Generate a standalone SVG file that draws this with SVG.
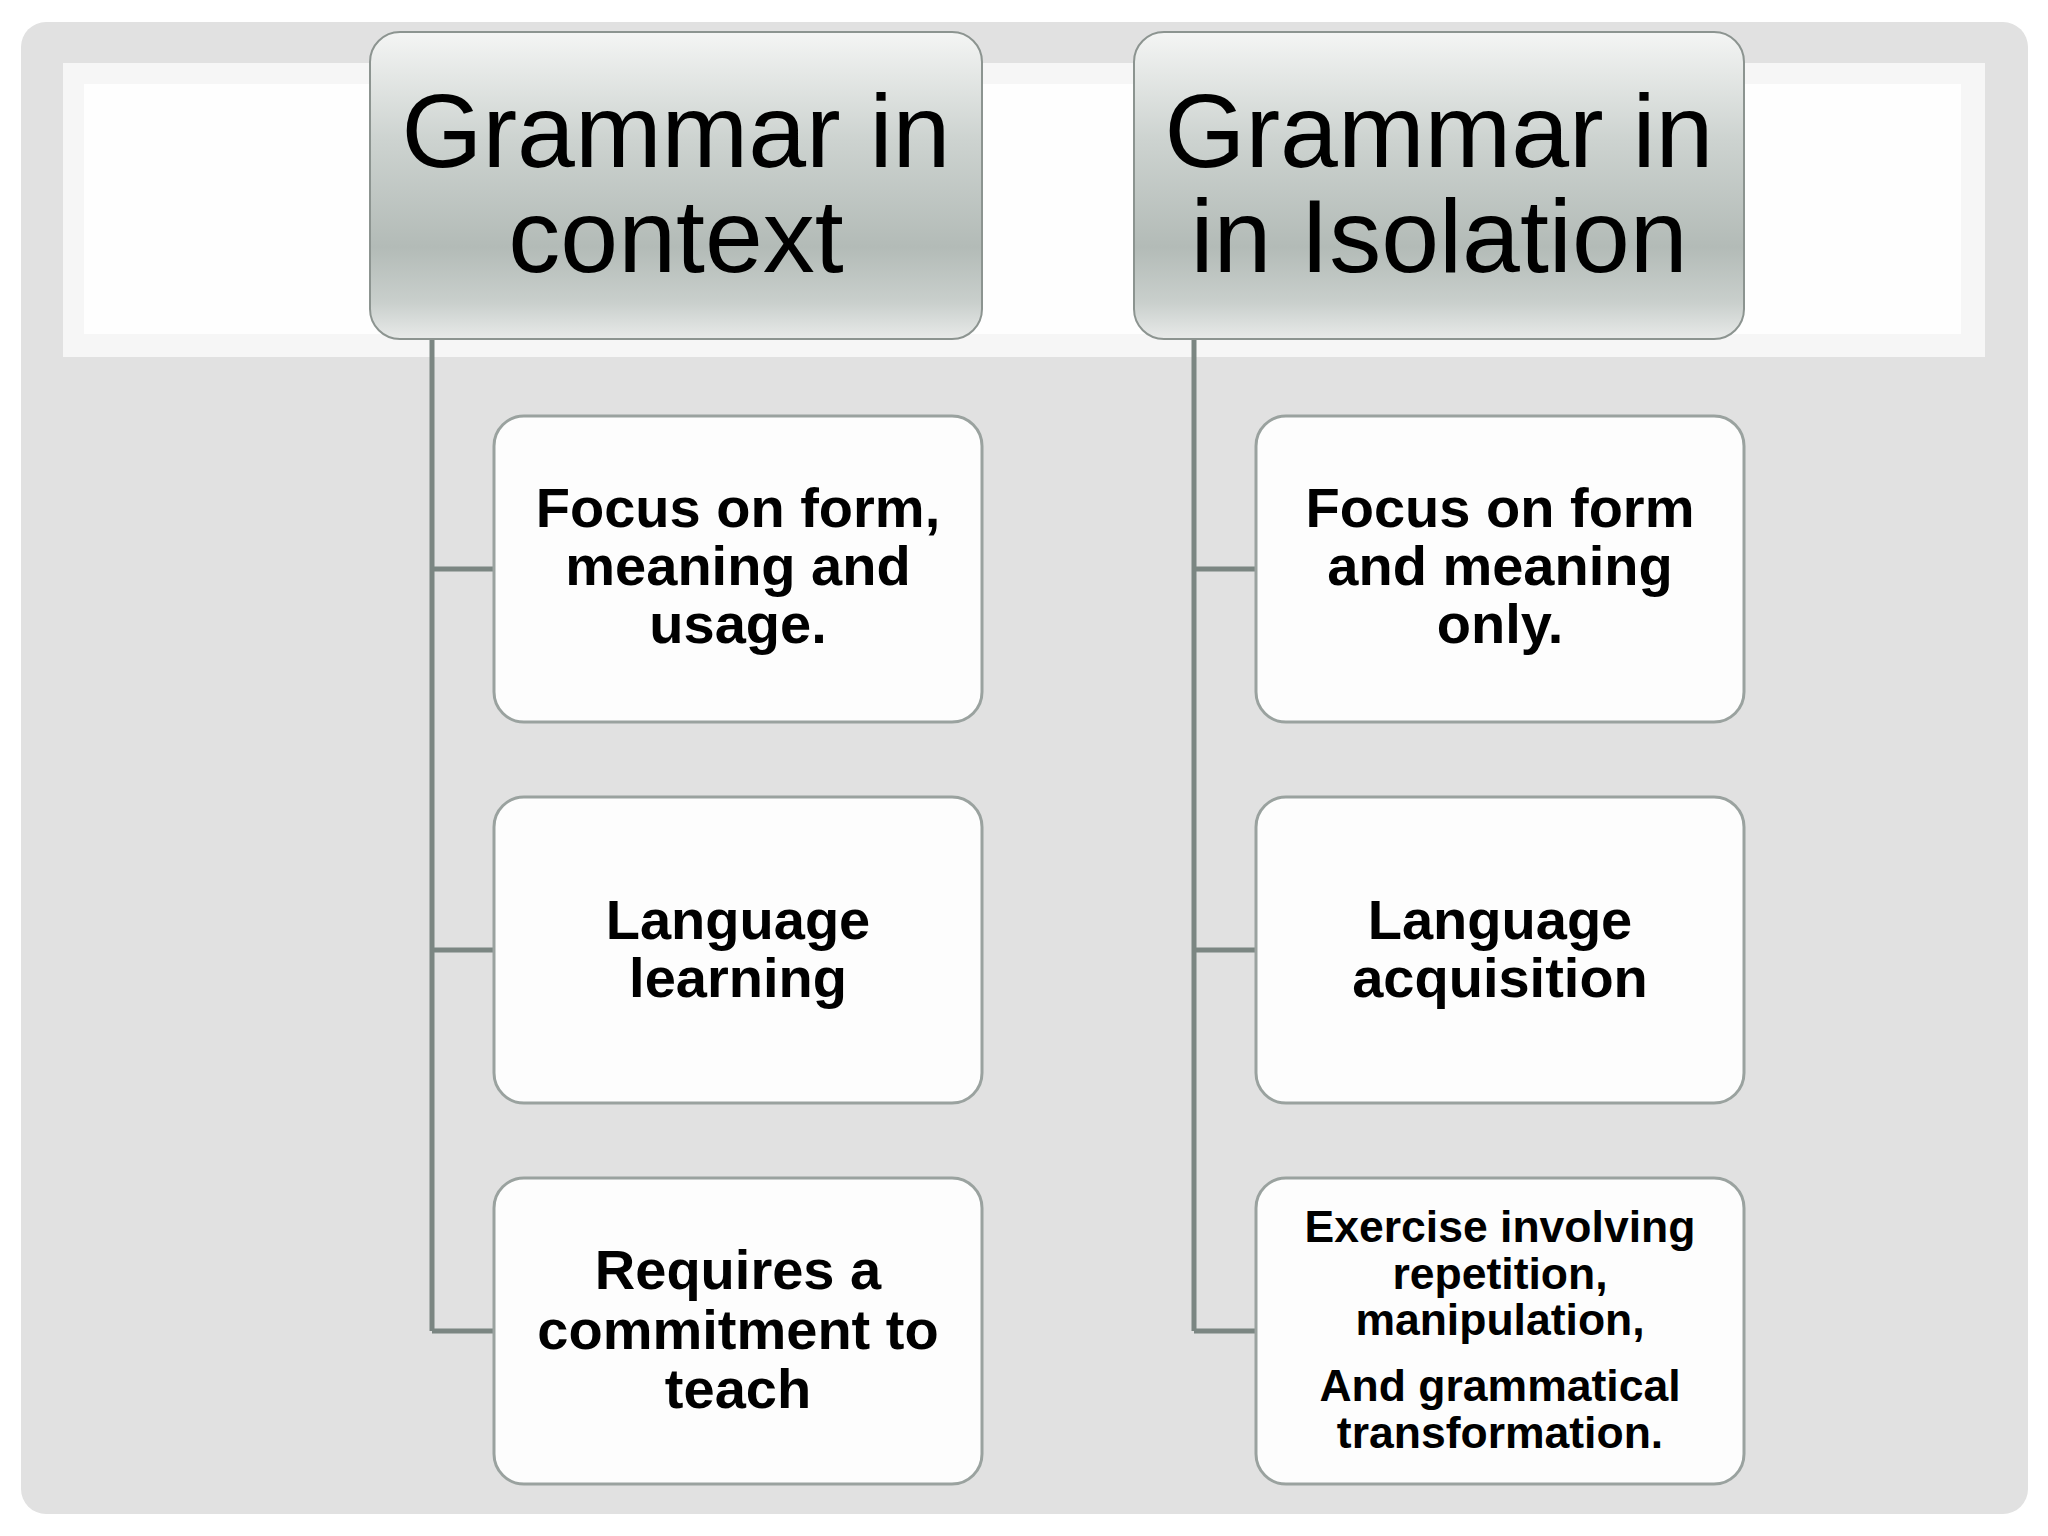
<svg xmlns="http://www.w3.org/2000/svg" width="2048" height="1536" viewBox="0 0 2048 1536">
  <defs>
    <linearGradient id="hdrGrad" x1="0" y1="0" x2="0" y2="1">
      <stop offset="0" stop-color="#f4f5f4"/>
      <stop offset="0.35" stop-color="#cdd3d0"/>
      <stop offset="0.7" stop-color="#b3bbb7"/>
      <stop offset="0.88" stop-color="#c9cfcc"/>
      <stop offset="1" stop-color="#e8eae9"/>
    </linearGradient>
    <style>
      .hdr { fill: url(#hdrGrad); stroke: #8c9490; stroke-width: 2; }
      .hdrText { font-family: "Liberation Sans", Arial, sans-serif; font-size: 104px; fill: #000; text-anchor: middle; }
      .child { fill: #fdfdfd; stroke: #9aa29f; stroke-width: 3; }
      .childText { font-family: "Liberation Sans", Arial, sans-serif; font-weight: bold; font-size: 56px; fill: #000; text-anchor: middle; }
      .childTextSm { font-family: "Liberation Sans", Arial, sans-serif; font-weight: bold; font-size: 44.5px; fill: #000; text-anchor: middle; }
      .conn { fill: none; stroke: #7b8682; stroke-width: 5; }
    </style>
  </defs>

  <!-- background -->
  <rect x="0" y="0" width="2048" height="1536" fill="#ffffff"/>
  <rect x="21" y="22" width="2007" height="1492" rx="25" fill="#e1e1e1"/>
  <rect x="63" y="63" width="1922" height="294" fill="#f6f6f6"/>
  <rect x="84" y="84" width="1877" height="250" fill="#fefefe"/>

  <!-- connectors -->
  <g id="connectors">
    <path class="conn" d="M432 339 V1331 M432 569 H494 M432 950 H494 M432 1331 H494"/>
    <path class="conn" d="M1194 339 V1331 M1194 569 H1256 M1194 950 H1256 M1194 1331 H1256"/>
  </g>

  <!-- headers -->
  <g id="header-context">
    <rect class="hdr" x="370" y="32" width="612" height="307" rx="30"/>
    <text class="hdrText" x="676" y="167">Grammar in</text>
    <text class="hdrText" x="676" y="272">context</text>
  </g>
  <g id="header-isolation">
    <rect class="hdr" x="1134" y="32" width="610" height="307" rx="30"/>
    <text class="hdrText" x="1439" y="167">Grammar in</text>
    <text class="hdrText" x="1439" y="272">in Isolation</text>
  </g>

  <!-- left column -->
  <g id="ctx-focus">
    <rect class="child" x="494" y="416" width="488" height="306" rx="30"/>
    <text class="childText" x="738" y="527">Focus on form,</text>
    <text class="childText" x="738" y="585">meaning and</text>
    <text class="childText" x="738" y="643">usage.</text>
  </g>
  <g id="ctx-learning">
    <rect class="child" x="494" y="797" width="488" height="306" rx="30"/>
    <text class="childText" x="738" y="939">Language</text>
    <text class="childText" x="738" y="997">learning</text>
  </g>
  <g id="ctx-commitment">
    <rect class="child" x="494" y="1178" width="488" height="306" rx="30"/>
    <text class="childText" x="738" y="1289">Requires a</text>
    <text class="childText" x="738" y="1349">commitment to</text>
    <text class="childText" x="738" y="1408">teach</text>
  </g>

  <!-- right column -->
  <g id="iso-focus">
    <rect class="child" x="1256" y="416" width="488" height="306" rx="30"/>
    <text class="childText" x="1500" y="527">Focus on form</text>
    <text class="childText" x="1500" y="585">and meaning</text>
    <text class="childText" x="1500" y="643">only.</text>
  </g>
  <g id="iso-acquisition">
    <rect class="child" x="1256" y="797" width="488" height="306" rx="30"/>
    <text class="childText" x="1500" y="939">Language</text>
    <text class="childText" x="1500" y="997">acquisition</text>
  </g>
  <g id="iso-exercise">
    <rect class="child" x="1256" y="1178" width="488" height="306" rx="30"/>
    <text class="childTextSm" x="1500" y="1242">Exercise involving</text>
    <text class="childTextSm" x="1500" y="1289">repetition,</text>
    <text class="childTextSm" x="1500" y="1335">manipulation,</text>
    <text class="childTextSm" x="1500" y="1401">And grammatical</text>
    <text class="childTextSm" x="1500" y="1448">transformation.</text>
  </g>
</svg>
